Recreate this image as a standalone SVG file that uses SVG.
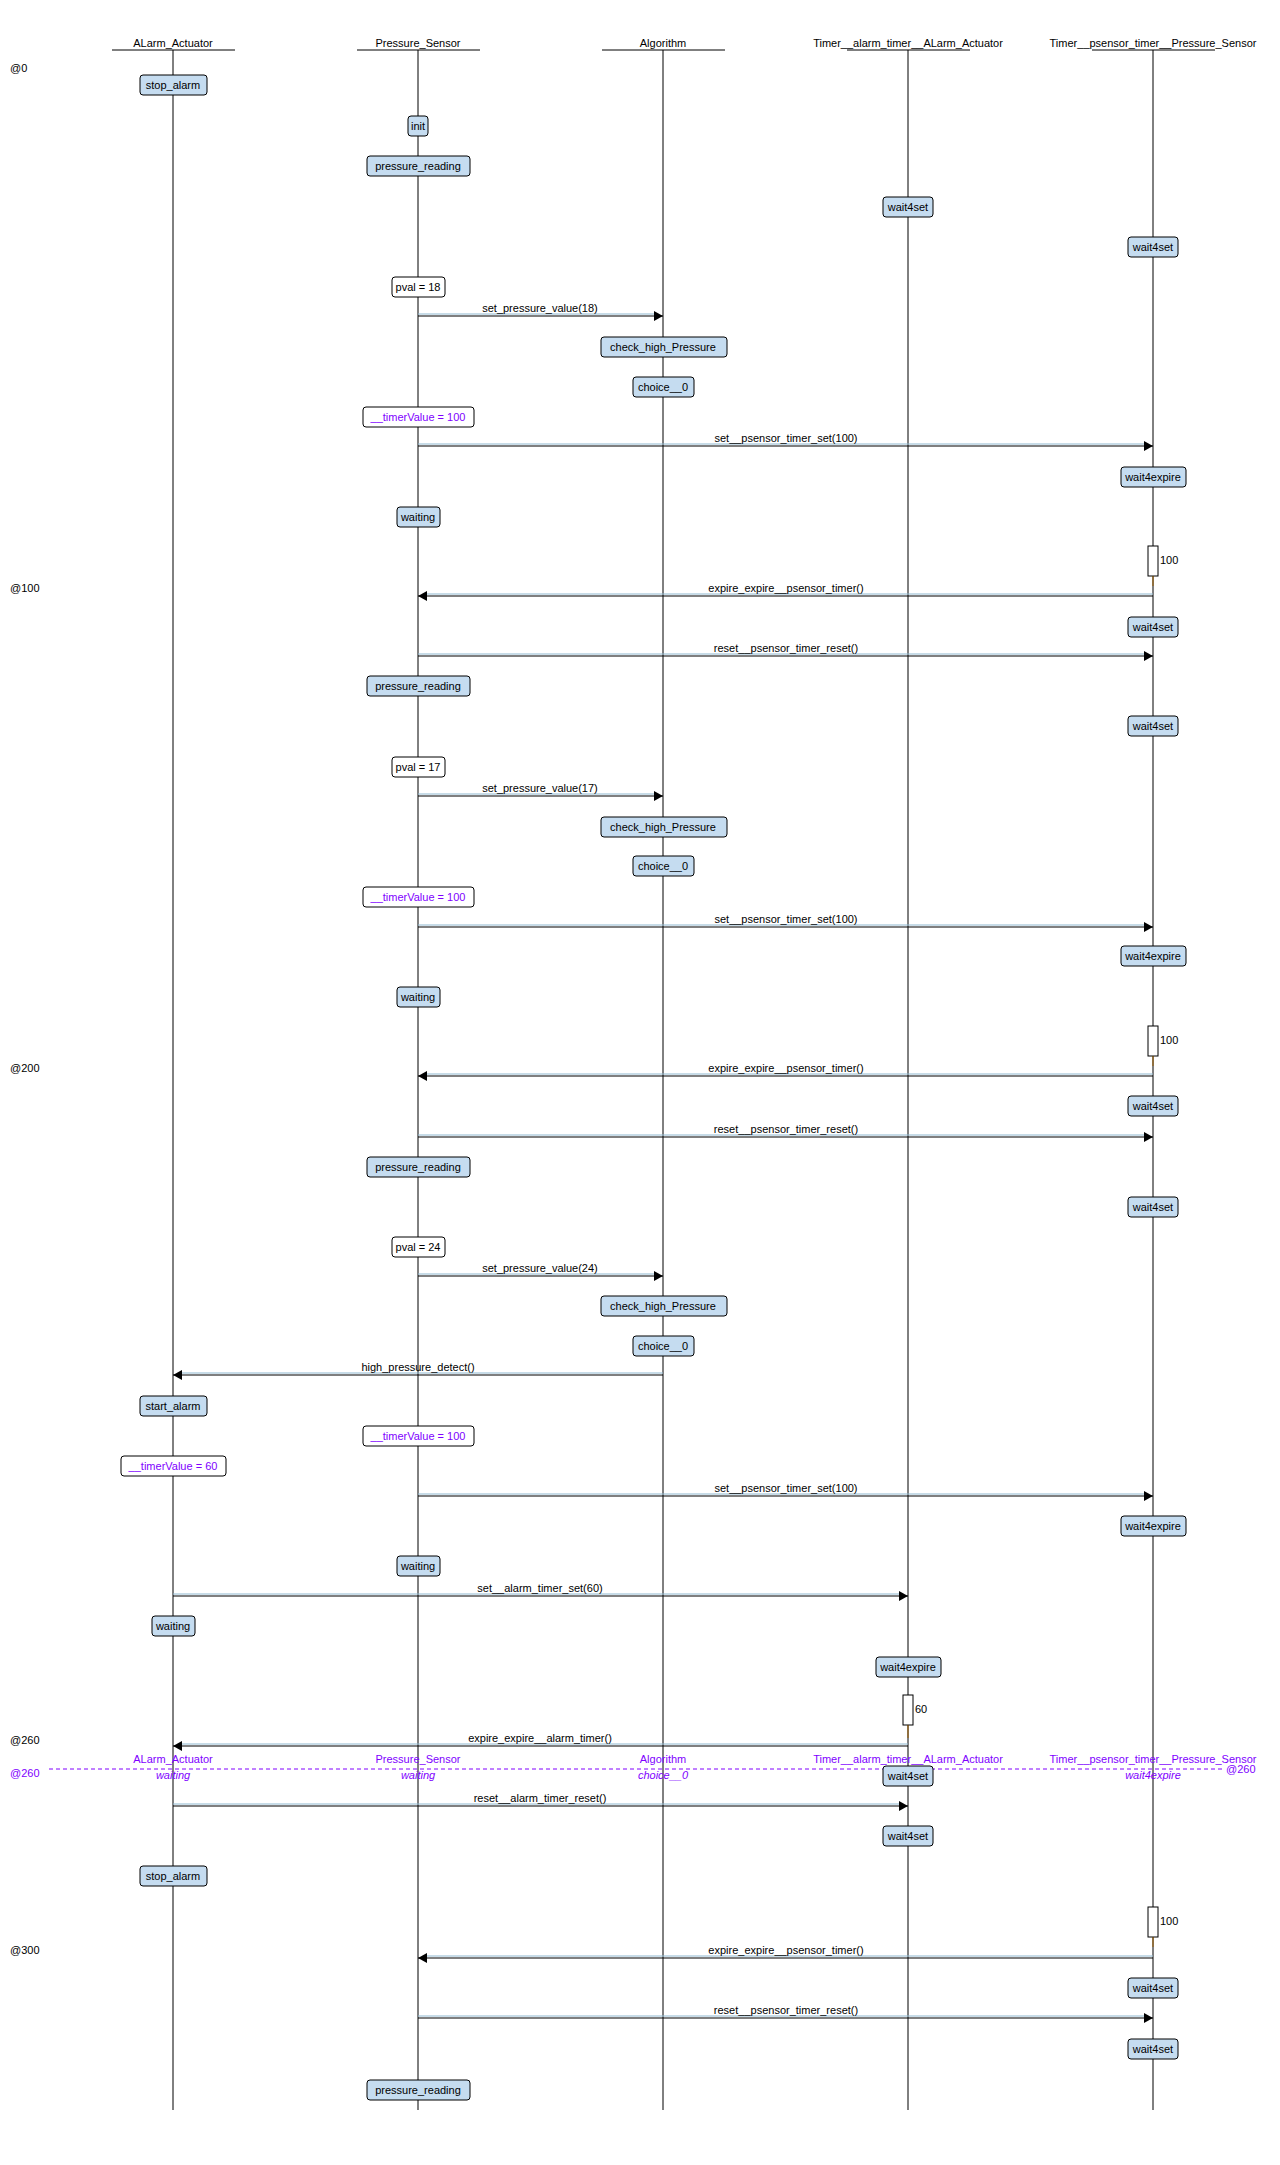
<svg xmlns="http://www.w3.org/2000/svg" width="1280" height="2165" viewBox="0 0 1280 2165">
<defs>
<style>
text{font-family:"Liberation Sans",Arial,sans-serif;font-size:11px;fill:#000}
.m{text-anchor:middle}
.life{stroke:#000;stroke-width:1}
.st rect{fill:#c5dcf0;stroke:#000;stroke-width:1}
.nt rect{fill:#fff;stroke:#000;stroke-width:1}
.p{fill:#8000ff}
.it{font-style:italic;fill:#8000ff}
.msg line.b{stroke:#8fb8d0;stroke-width:1}
.msg line.k{stroke:#000;stroke-width:1.2}
.tm{fill:#fff;stroke:#000}
</style>
<marker id="ah" markerWidth="10" markerHeight="10" refX="9" refY="5" orient="auto" markerUnits="userSpaceOnUse"><path d="M0,0 L9,5 L0,10 z" fill="#000"/></marker>
</defs>
<rect width="1280" height="2165" fill="#fff"/>
<g id="headers">
<text class="m" x="173" y="47">ALarm_Actuator</text><line x1="112" y1="50" x2="235" y2="50" stroke="#000"/>
<text class="m" x="418" y="47">Pressure_Sensor</text><line x1="357" y1="50" x2="480" y2="50" stroke="#000"/>
<text class="m" x="663" y="47">Algorithm</text><line x1="602" y1="50" x2="725" y2="50" stroke="#000"/>
<text class="m" x="908" y="47">Timer__alarm_timer__ALarm_Actuator</text><line x1="847" y1="50" x2="970" y2="50" stroke="#000"/>
<text class="m" x="1153" y="47">Timer__psensor_timer__Pressure_Sensor</text><line x1="1092" y1="50" x2="1215" y2="50" stroke="#000"/>
</g>
<g id="lifelines">
<line class="life" x1="173" y1="50" x2="173" y2="2110"/>
<line class="life" x1="418" y1="50" x2="418" y2="2110"/>
<line class="life" x1="663" y1="50" x2="663" y2="2110"/>
<line class="life" x1="908" y1="50" x2="908" y2="2110"/>
<line class="life" x1="1153" y1="50" x2="1153" y2="2110"/>
</g>
<g id="times">
<text x="10" y="72">@0</text>
<text x="10" y="592">@100</text>
<text x="10" y="1072">@200</text>
<text x="10" y="1744">@260</text>
<text x="10" y="1954">@300</text>
</g>
<g id="timers">
<rect class="tm" x="1148" y="546" width="10" height="30"/><line x1="1153" y1="576" x2="1153" y2="586" stroke="#a06000"/><text x="1160" y="564">100</text>
<rect class="tm" x="1148" y="1026" width="10" height="30"/><line x1="1153" y1="1056" x2="1153" y2="1066" stroke="#a06000"/><text x="1160" y="1044">100</text>
<rect class="tm" x="903" y="1695" width="10" height="30"/><line x1="908" y1="1725" x2="908" y2="1738" stroke="#a06000"/><text x="915" y="1713">60</text>
<rect class="tm" x="1148" y="1907" width="10" height="30"/><line x1="1153" y1="1937" x2="1153" y2="1947" stroke="#a06000"/><text x="1160" y="1925">100</text>
</g>
<g id="connectors" class="msg">
<line class="b" x1="418" y1="314" x2="655" y2="314"/><line class="k" x1="418" y1="316" x2="663" y2="316" marker-end="url(#ah)"/><text class="m" x="540" y="312">set_pressure_value(18)</text>
<line class="b" x1="418" y1="444" x2="1145" y2="444"/><line class="k" x1="418" y1="446" x2="1153" y2="446" marker-end="url(#ah)"/><text class="m" x="786" y="442">set__psensor_timer_set(100)</text>
<line class="b" x1="426" y1="594" x2="1153" y2="594"/><line class="k" x1="1153" y1="596" x2="418" y2="596" marker-end="url(#ah)"/><text class="m" x="786" y="592">expire_expire__psensor_timer()</text>
<line class="b" x1="418" y1="654" x2="1145" y2="654"/><line class="k" x1="418" y1="656" x2="1153" y2="656" marker-end="url(#ah)"/><text class="m" x="786" y="652">reset__psensor_timer_reset()</text>
<line class="b" x1="418" y1="794" x2="655" y2="794"/><line class="k" x1="418" y1="796" x2="663" y2="796" marker-end="url(#ah)"/><text class="m" x="540" y="792">set_pressure_value(17)</text>
<line class="b" x1="418" y1="925" x2="1145" y2="925"/><line class="k" x1="418" y1="927" x2="1153" y2="927" marker-end="url(#ah)"/><text class="m" x="786" y="923">set__psensor_timer_set(100)</text>
<line class="b" x1="426" y1="1074" x2="1153" y2="1074"/><line class="k" x1="1153" y1="1076" x2="418" y2="1076" marker-end="url(#ah)"/><text class="m" x="786" y="1072">expire_expire__psensor_timer()</text>
<line class="b" x1="418" y1="1135" x2="1145" y2="1135"/><line class="k" x1="418" y1="1137" x2="1153" y2="1137" marker-end="url(#ah)"/><text class="m" x="786" y="1133">reset__psensor_timer_reset()</text>
<line class="b" x1="418" y1="1274" x2="655" y2="1274"/><line class="k" x1="418" y1="1276" x2="663" y2="1276" marker-end="url(#ah)"/><text class="m" x="540" y="1272">set_pressure_value(24)</text>
<line class="b" x1="181" y1="1373" x2="663" y2="1373"/><line class="k" x1="663" y1="1375" x2="173" y2="1375" marker-end="url(#ah)"/><text class="m" x="418" y="1371">high_pressure_detect()</text>
<line class="b" x1="418" y1="1494" x2="1145" y2="1494"/><line class="k" x1="418" y1="1496" x2="1153" y2="1496" marker-end="url(#ah)"/><text class="m" x="786" y="1492">set__psensor_timer_set(100)</text>
<line class="b" x1="173" y1="1594" x2="900" y2="1594"/><line class="k" x1="173" y1="1596" x2="908" y2="1596" marker-end="url(#ah)"/><text class="m" x="540" y="1592">set__alarm_timer_set(60)</text>
<line class="b" x1="181" y1="1744" x2="908" y2="1744"/><line class="k" x1="908" y1="1746" x2="173" y2="1746" marker-end="url(#ah)"/><text class="m" x="540" y="1742">expire_expire__alarm_timer()</text>
<line class="b" x1="173" y1="1804" x2="900" y2="1804"/><line class="k" x1="173" y1="1806" x2="908" y2="1806" marker-end="url(#ah)"/><text class="m" x="540" y="1802">reset__alarm_timer_reset()</text>
<line class="b" x1="426" y1="1956" x2="1153" y2="1956"/><line class="k" x1="1153" y1="1958" x2="418" y2="1958" marker-end="url(#ah)"/><text class="m" x="786" y="1954">expire_expire__psensor_timer()</text>
<line class="b" x1="418" y1="2016" x2="1145" y2="2016"/><line class="k" x1="418" y1="2018" x2="1153" y2="2018" marker-end="url(#ah)"/><text class="m" x="786" y="2014">reset__psensor_timer_reset()</text>
</g>
<g id="snapshot">
<line x1="49" y1="1769" x2="1222" y2="1769" stroke="#8000ff" stroke-dasharray="4,3"/>
<text class="p" x="10" y="1777">@260</text>
<text class="p" x="1226" y="1773">@260</text>
<text class="m p" x="173" y="1763">ALarm_Actuator</text><text class="m it" x="173" y="1779">waiting</text>
<text class="m p" x="418" y="1763">Pressure_Sensor</text><text class="m it" x="418" y="1779">waiting</text>
<text class="m p" x="663" y="1763">Algorithm</text><text class="m it" x="663" y="1779">choice__0</text>
<text class="m p" x="908" y="1763">Timer__alarm_timer__ALarm_Actuator</text>
<text class="m p" x="1153" y="1763">Timer__psensor_timer__Pressure_Sensor</text><text class="m it" x="1153" y="1779">wait4expire</text>
</g>
<g id="states" class="st">
<g id="s1"><rect x="140" y="75" width="67" height="20" rx="3"/><text class="m" x="173" y="89">stop_alarm</text></g>
<g id="s2"><rect x="408" y="116" width="20" height="20" rx="3"/><text class="m" x="418" y="130">init</text></g>
<g id="s3"><rect x="367" y="156" width="103" height="20" rx="3"/><text class="m" x="418" y="170">pressure_reading</text></g>
<g id="s4"><rect x="883" y="197" width="50" height="20" rx="3"/><text class="m" x="908" y="211">wait4set</text></g>
<g id="s5"><rect x="1128" y="237" width="50" height="20" rx="3"/><text class="m" x="1153" y="251">wait4set</text></g>
<g id="s6"><rect x="601" y="337" width="126" height="20" rx="3"/><text class="m" x="663" y="351">check_high_Pressure</text></g>
<g id="s7"><rect x="633" y="377" width="61" height="20" rx="3"/><text class="m" x="663" y="391">choice__0</text></g>
<g id="s8"><rect x="1121" y="467" width="65" height="20" rx="3"/><text class="m" x="1153" y="481">wait4expire</text></g>
<g id="s9"><rect x="397" y="507" width="43" height="20" rx="3"/><text class="m" x="418" y="521">waiting</text></g>
<g id="s10"><rect x="1128" y="617" width="50" height="20" rx="3"/><text class="m" x="1153" y="631">wait4set</text></g>
<g id="s11"><rect x="367" y="676" width="103" height="20" rx="3"/><text class="m" x="418" y="690">pressure_reading</text></g>
<g id="s12"><rect x="1128" y="716" width="50" height="20" rx="3"/><text class="m" x="1153" y="730">wait4set</text></g>
<g id="s13"><rect x="601" y="817" width="126" height="20" rx="3"/><text class="m" x="663" y="831">check_high_Pressure</text></g>
<g id="s14"><rect x="633" y="856" width="61" height="20" rx="3"/><text class="m" x="663" y="870">choice__0</text></g>
<g id="s15"><rect x="1121" y="946" width="65" height="20" rx="3"/><text class="m" x="1153" y="960">wait4expire</text></g>
<g id="s16"><rect x="397" y="987" width="43" height="20" rx="3"/><text class="m" x="418" y="1001">waiting</text></g>
<g id="s17"><rect x="1128" y="1096" width="50" height="20" rx="3"/><text class="m" x="1153" y="1110">wait4set</text></g>
<g id="s18"><rect x="367" y="1157" width="103" height="20" rx="3"/><text class="m" x="418" y="1171">pressure_reading</text></g>
<g id="s19"><rect x="1128" y="1197" width="50" height="20" rx="3"/><text class="m" x="1153" y="1211">wait4set</text></g>
<g id="s20"><rect x="601" y="1296" width="126" height="20" rx="3"/><text class="m" x="663" y="1310">check_high_Pressure</text></g>
<g id="s21"><rect x="633" y="1336" width="61" height="20" rx="3"/><text class="m" x="663" y="1350">choice__0</text></g>
<g id="s22"><rect x="140" y="1396" width="67" height="20" rx="3"/><text class="m" x="173" y="1410">start_alarm</text></g>
<g id="s23"><rect x="1121" y="1516" width="65" height="20" rx="3"/><text class="m" x="1153" y="1530">wait4expire</text></g>
<g id="s24"><rect x="397" y="1556" width="43" height="20" rx="3"/><text class="m" x="418" y="1570">waiting</text></g>
<g id="s25"><rect x="152" y="1616" width="43" height="20" rx="3"/><text class="m" x="173" y="1630">waiting</text></g>
<g id="s26"><rect x="876" y="1657" width="65" height="20" rx="3"/><text class="m" x="908" y="1671">wait4expire</text></g>
<g id="s27"><rect x="883" y="1766" width="50" height="20" rx="3"/><text class="m" x="908" y="1780">wait4set</text></g>
<g id="s28"><rect x="883" y="1826" width="50" height="20" rx="3"/><text class="m" x="908" y="1840">wait4set</text></g>
<g id="s29"><rect x="140" y="1866" width="67" height="20" rx="3"/><text class="m" x="173" y="1880">stop_alarm</text></g>
<g id="s30"><rect x="1128" y="1978" width="50" height="20" rx="3"/><text class="m" x="1153" y="1992">wait4set</text></g>
<g id="s31"><rect x="1128" y="2039" width="50" height="20" rx="3"/><text class="m" x="1153" y="2053">wait4set</text></g>
<g id="s32"><rect x="367" y="2080" width="103" height="20" rx="3"/><text class="m" x="418" y="2094">pressure_reading</text></g>
</g>
<g id="notes" class="nt">
<g id="n1"><rect x="392" y="277" width="53" height="20" rx="3"/><text class="m" x="418" y="291">pval = 18</text></g>
<g id="n2"><rect x="363" y="407" width="111" height="20" rx="3"/><text class="m p" x="418" y="421">__timerValue = 100</text></g>
<g id="n3"><rect x="392" y="757" width="53" height="20" rx="3"/><text class="m" x="418" y="771">pval = 17</text></g>
<g id="n4"><rect x="363" y="887" width="111" height="20" rx="3"/><text class="m p" x="418" y="901">__timerValue = 100</text></g>
<g id="n5"><rect x="392" y="1237" width="53" height="20" rx="3"/><text class="m" x="418" y="1251">pval = 24</text></g>
<g id="n6"><rect x="363" y="1426" width="111" height="20" rx="3"/><text class="m p" x="418" y="1440">__timerValue = 100</text></g>
<g id="n7"><rect x="121" y="1456" width="105" height="20" rx="3"/><text class="m p" x="173" y="1470">__timerValue = 60</text></g>
</g>
</svg>
